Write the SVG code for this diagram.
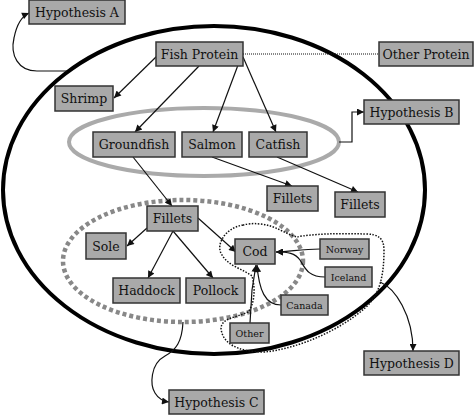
<svg xmlns="http://www.w3.org/2000/svg" width="474" height="415" viewBox="0 0 474 415">
<style>
.box rect{fill:#a9a9a9;stroke:#333;stroke-width:1.5}
.box text{font-family:'DejaVu Serif','Liberation Serif',serif;font-size:12.5px;fill:#111;text-anchor:middle}
.sm text{font-size:9.5px}
.c{fill:none;stroke:#111;stroke-width:1.2}
.ca{fill:none;stroke:#111;stroke-width:1.2;marker-end:url(#ah)}
</style>
<defs>
<marker id="ah" viewBox="0 0 10 10" refX="10" refY="5" markerWidth="9" markerHeight="7" markerUnits="userSpaceOnUse" orient="auto"><path d="M0,0 L10,5 L0,10 z" fill="#111"/></marker>
</defs>
<rect width="474" height="415" fill="#fff"/>
<g id="regions">
<ellipse cx="214" cy="190" rx="211" ry="164" fill="none" stroke="#000" stroke-width="4"/>
<ellipse cx="204" cy="142" rx="135" ry="34" fill="none" stroke="#aaa" stroke-width="4"/>
<ellipse cx="183" cy="261" rx="120" ry="61" fill="none" stroke="#888" stroke-width="4.5" stroke-dasharray="4 3"/>
<path d="M243 225 C225 228 215 245 222 255 C228 266 245 270 252 276 C256 290 254 305 248 312 C235 318 222 318 221 328 C222 342 235 352 265 352 C300 348 340 330 365 308 C380 295 384 275 384 250 C384 238 378 234 365 234 C340 233 310 234 297 237 C285 234 275 225 260 224 C252 223 247 224 243 225 Z" fill="none" stroke="#111" stroke-width="1.5" stroke-dasharray="1.5 1.5"/>
</g>
<g id="connectors">
<path class="ca" d="M67 71 L37 71 C18 71 10 55 14 38 C16 28 20 17 29 13"/>
<path class="c" d="M243 54 L379 54" stroke-dasharray="1 1"/>
<path class="ca" d="M157 56 L114 98"/>
<path class="ca" d="M199 66 L135 132"/>
<path class="ca" d="M238 65 L213 132"/>
<path class="ca" d="M243 57 L276 132"/>
<path class="ca" d="M339 142 L352 142 L352 112 L364 112"/>
<path class="ca" d="M133 157 L172 206"/>
<path class="ca" d="M212 157 L292 186"/>
<path class="ca" d="M277 157 L358 192"/>
<path class="ca" d="M147 228 L127 246"/>
<path class="ca" d="M173 231 L148 278"/>
<path class="ca" d="M173 231 L213 278"/>
<path class="ca" d="M198 218 L236 252"/>
<path class="ca" d="M320 249 C300 249 290 252 276 252"/>
<path class="ca" d="M325 277 C308 277 305 268 300 260 C295 253 288 252 276 252"/>
<path class="ca" d="M281 305 C265 305 259 290 257 265"/>
<path class="ca" d="M250 323 L252 290 L256 265"/>
<path class="ca" d="M380 282 C395 288 413 315 413 351"/>
<path class="ca" d="M183 322 C182 342 176 350 165 356 C150 364 150 385 155 393 C158 398 162 401 169 402"/>
</g>
<g id="hypothesis-a" class="box"><rect x="29" y="0" width="96" height="24"/><text x="77" y="16.5">Hypothesis A</text></g>
<g id="fish-protein" class="box"><rect x="156" y="42" width="87" height="24"/><text x="199.5" y="58.5">Fish Protein</text></g>
<g id="other-protein" class="box"><rect x="379" y="42" width="94" height="24"/><text x="426" y="58.5">Other Protein</text></g>
<g id="shrimp" class="box"><rect x="55" y="86" width="58" height="25"/><text x="84" y="103">Shrimp</text></g>
<g id="hypothesis-b" class="box"><rect x="364" y="100" width="95" height="24"/><text x="411.5" y="116.5">Hypothesis B</text></g>
<g id="groundfish" class="box"><rect x="93" y="132" width="82" height="25"/><text x="134" y="149">Groundfish</text></g>
<g id="salmon" class="box"><rect x="182" y="132" width="60" height="25"/><text x="212" y="149">Salmon</text></g>
<g id="catfish" class="box"><rect x="249" y="132" width="58" height="25"/><text x="278" y="149">Catfish</text></g>
<g id="fillets-salmon" class="box"><rect x="267" y="186" width="51" height="25"/><text x="292.5" y="203">Fillets</text></g>
<g id="fillets-catfish" class="box"><rect x="335" y="192" width="50" height="25"/><text x="360" y="209">Fillets</text></g>
<g id="fillets-groundfish" class="box"><rect x="147" y="206" width="51" height="25"/><text x="172.5" y="223">Fillets</text></g>
<g id="sole" class="box"><rect x="86" y="233" width="40" height="26"/><text x="106" y="250.5">Sole</text></g>
<g id="haddock" class="box"><rect x="113" y="278" width="67" height="25"/><text x="146.5" y="295">Haddock</text></g>
<g id="pollock" class="box"><rect x="186" y="278" width="59" height="25"/><text x="215.5" y="295">Pollock</text></g>
<g id="cod" class="box"><rect x="235" y="239" width="40" height="25"/><text x="255" y="256">Cod</text></g>
<g id="norway" class="box sm"><rect x="320" y="239" width="49" height="20"/><text x="344.5" y="252.5">Norway</text></g>
<g id="iceland" class="box sm"><rect x="325" y="267" width="47" height="20"/><text x="348.5" y="280.5">Iceland</text></g>
<g id="canada" class="box sm"><rect x="281" y="295" width="47" height="20"/><text x="304.5" y="308.5">Canada</text></g>
<g id="other" class="box sm"><rect x="230" y="323" width="39" height="20"/><text x="249.5" y="336.5">Other</text></g>
<g id="hypothesis-d" class="box"><rect x="364" y="351" width="95" height="24"/><text x="411.5" y="367.5">Hypothesis D</text></g>
<g id="hypothesis-c" class="box"><rect x="169" y="390" width="95" height="24"/><text x="216.5" y="406.5">Hypothesis C</text></g>
</svg>
